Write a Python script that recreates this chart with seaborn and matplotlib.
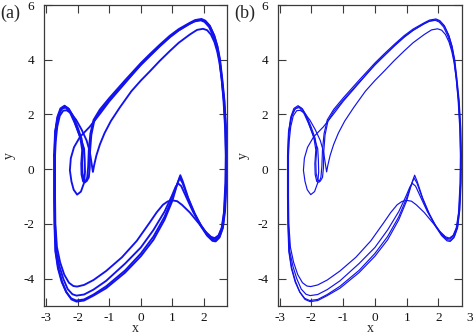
import matplotlib
matplotlib.use("Agg")
import matplotlib.pyplot as plt
import matplotlib.transforms as mtransforms
import numpy as np
import pandas as pd
import seaborn as sns

# Phase-portrait laps (x, y) traced around the attractor, one list per pass
lap_outer = [
    (-2.74, 0.5), (-2.74, -1.0), (-2.73, -2.0), (-2.70, -3.0), (-2.62, -3.6), (-2.50, -4.1),
    (-2.36, -4.5), (-2.20, -4.76), (-2.04, -4.84), (-1.80, -4.80), (-1.50, -4.62), (-1.10, -4.35),
    (-0.50, -3.78), (0.00, -3.18), (0.40, -2.58), (0.75, -1.85), (1.00, -1.15), (1.15, -0.55),
    (1.25, -0.22), (1.33, -0.45), (1.50, -1.05), (1.70, -1.60), (1.90, -2.05), (2.10, -2.40),
    (2.28, -2.58), (2.38, -2.60), (2.50, -2.45), (2.60, -2.10), (2.66, -1.50), (2.70, -0.50),
    (2.71, 0.50), (2.69, 1.50), (2.64, 2.50), (2.57, 3.30), (2.50, 4.00), (2.42, 4.50),
    (2.32, 4.90), (2.18, 5.25), (2.04, 5.43), (1.92, 5.49), (1.72, 5.45), (1.55, 5.35),
    (1.20, 5.12), (0.92, 4.88), (0.60, 4.55), (0.28, 4.20), (0.00, 3.88), (-0.50, 3.25),
    (-1.00, 2.60), (-1.30, 2.18), (-1.50, 1.80), (-1.60, 1.30), (-1.65, 0.70), (-1.67, 0.10),
    (-1.70, -0.30), (-1.76, -0.48), (-1.83, -0.45), (-1.88, -0.20), (-1.89, 0.20), (-1.86, 0.70),
    (-1.92, 1.15), (-2.04, 1.55), (-2.18, 1.98), (-2.30, 2.22), (-2.42, 2.32), (-2.55, 2.22),
    (-2.65, 1.90), (-2.71, 1.40), (-2.74, 0.5),
]

lap_loop = [
    (-2.73, 0.5), (-2.73, -1.0), (-2.72, -2.0), (-2.68, -3.0), (-2.58, -3.55), (-2.46, -4.0),
    (-2.32, -4.38), (-2.17, -4.57), (-2.04, -4.62), (-1.80, -4.58), (-1.50, -4.40), (-1.10, -4.08),
    (-0.50, -3.45), (0.00, -2.86), (0.40, -2.22), (0.75, -1.55), (0.98, -0.98), (1.10, -0.65),
    (1.18, -0.52), (1.28, -0.62), (1.45, -1.05), (1.65, -1.55), (1.88, -2.00), (2.08, -2.35),
    (2.25, -2.52), (2.36, -2.55), (2.48, -2.42), (2.58, -2.10), (2.65, -1.50), (2.69, -0.50),
    (2.70, 0.50), (2.68, 1.50), (2.63, 2.50), (2.56, 3.30), (2.49, 4.00), (2.41, 4.45),
    (2.30, 4.85), (2.16, 5.20), (2.02, 5.38), (1.90, 5.44), (1.70, 5.40), (1.52, 5.30),
    (1.18, 5.06), (0.90, 4.82), (0.58, 4.48), (0.26, 4.12), (-0.02, 3.80), (-0.50, 3.15),
    (-1.00, 2.48), (-1.30, 2.02), (-1.62, 1.55), (-1.93, 1.18), (-2.12, 0.80), (-2.22, 0.40),
    (-2.25, -0.04), (-2.20, -0.45), (-2.13, -0.75), (-2.02, -0.93), (-1.90, -0.82), (-1.80, -0.50),
    (-1.77, -0.10), (-1.78, 0.35), (-1.80, 0.75), (-1.95, 1.25), (-2.10, 1.70), (-2.25, 2.08),
    (-2.38, 2.25), (-2.50, 2.22), (-2.62, 1.95), (-2.70, 1.40), (-2.73, 0.5),
]

lap_inner = [
    (-2.72, 0.5), (-2.72, -1.0), (-2.71, -2.0), (-2.66, -2.85), (-2.56, -3.40), (-2.43, -3.85),
    (-2.28, -4.15), (-2.14, -4.27), (-2.02, -4.29), (-1.80, -4.23), (-1.50, -4.05), (-1.10, -3.72),
    (-0.60, -3.22), (-0.13, -2.62), (0.28, -1.95), (0.50, -1.58), (0.70, -1.30), (0.85, -1.18),
    (1.00, -1.14), (1.15, -1.17), (1.30, -1.30), (1.55, -1.58), (1.80, -1.93), (2.05, -2.28),
    (2.22, -2.47), (2.34, -2.52), (2.46, -2.42), (2.56, -2.15), (2.63, -1.60), (2.68, -0.50),
    (2.69, 0.50), (2.67, 1.50), (2.62, 2.50), (2.56, 3.30), (2.49, 3.90), (2.42, 4.30),
    (2.33, 4.65), (2.22, 4.92), (2.10, 5.08), (1.97, 5.13), (1.78, 5.09), (1.55, 4.92),
    (1.20, 4.62), (0.92, 4.32), (0.60, 3.96), (0.28, 3.57), (0.00, 3.24), (-0.30, 2.85),
    (-0.67, 2.25), (-0.95, 1.76), (-1.15, 1.32), (-1.30, 0.90), (-1.41, 0.50), (-1.48, 0.15),
    (-1.52, -0.10), (-1.56, 0.20), (-1.62, 0.65), (-1.72, 1.05), (-1.88, 1.45), (-2.05, 1.80),
    (-2.22, 2.05), (-2.35, 2.15), (-2.46, 2.14), (-2.57, 1.95), (-2.65, 1.55), (-2.70, 1.00),
    (-2.72, 0.5),
]

lap_outer2 = [
    (-2.75, 0.5), (-2.75, -1.0), (-2.74, -2.0), (-2.71, -3.0), (-2.63, -3.62), (-2.51, -4.12),
    (-2.37, -4.48), (-2.21, -4.72), (-2.05, -4.80), (-1.80, -4.76), (-1.50, -4.58), (-1.10, -4.28),
    (-0.50, -3.70), (0.00, -3.08), (0.40, -2.46), (0.75, -1.74), (1.00, -1.05), (1.14, -0.58),
    (1.23, -0.32), (1.32, -0.50), (1.50, -1.08), (1.70, -1.63), (1.90, -2.08), (2.10, -2.43),
    (2.27, -2.62), (2.37, -2.64), (2.49, -2.50), (2.60, -2.15), (2.67, -1.50), (2.71, -0.50),
    (2.72, 0.50), (2.70, 1.50), (2.65, 2.50), (2.58, 3.30), (2.51, 4.00), (2.43, 4.48),
    (2.33, 4.87), (2.19, 5.22), (2.05, 5.40), (1.93, 5.46), (1.73, 5.42), (1.56, 5.32),
    (1.21, 5.08), (0.93, 4.83), (0.61, 4.50), (0.29, 4.14), (0.01, 3.82), (-0.49, 3.19),
    (-0.99, 2.54), (-1.29, 2.12), (-1.48, 1.75), (-1.57, 1.25), (-1.61, 0.65), (-1.62, 0.05),
    (-1.65, -0.30), (-1.72, -0.44), (-1.80, -0.40), (-1.85, -0.15), (-1.86, 0.25), (-1.83, 0.75),
    (-1.88, 1.12), (-2.00, 1.52), (-2.15, 1.95), (-2.28, 2.20), (-2.40, 2.29), (-2.53, 2.18),
    (-2.64, 1.85), (-2.72, 1.35), (-2.75, 0.5),
]

laps = {"p1": lap_outer, "p2": lap_loop, "p3": lap_inner, "p4": lap_outer2}

x_ticks = [-3, -2, -1, 0, 1, 2]
y_ticks = [-4, -2, 0, 2, 4, 6]
panel_labels = ["(a)", "(b)"]

rows = []
for name, pts in laps.items():
    for i, (x, y) in enumerate(pts):
        rows.append({"lap": name, "step": i, "x": x, "y": y})
df = pd.DataFrame(rows)

sns.set_style("ticks")
plt.rcParams["font.family"] = ["Liberation Serif", "DejaVu Serif"]

W, H = 474, 335
fig = plt.figure(figsize=(W / 100, H / 100), dpi=100)
fig.patch.set_facecolor("white")

boxes = [(44, 227, 5, 306), (278, 462, 5, 306)]
xlims = [(-3.07, 2.73), (-3.05, 2.74)]
widths = [1.35, 0.85]
line_color = "#1212ee"
spine_color = "#3a3a3a"

for k, (l, r, t, b) in enumerate(boxes):
    ax = fig.add_axes([l / W, 1 - b / H, (r - l) / W, (b - t) / H])
    sns.lineplot(data=df, x="x", y="y", units="lap", estimator=None, sort=False,
                 color=line_color, lw=widths[k], ax=ax, legend=False)
    ax.set_xlim(*xlims[k])
    ax.set_ylim(-5, 6)
    ax.set_xticks(x_ticks)
    ax.set_yticks(y_ticks)
    ax.set_xticklabels(["%d" % v for v in x_ticks])
    ax.set_yticklabels(["%d" % v for v in y_ticks])
    ax.tick_params(direction="in", length=6, width=0.8, color=spine_color,
                   top=True, right=True, labelsize=9.5, labelcolor="#111111")
    ax.tick_params(axis="y", pad=7)
    ax.tick_params(axis="x", pad=4)
    for s in ax.spines.values():
        s.set_color(spine_color)
        s.set_linewidth(0.9)
    ax.set_xlabel("x", fontsize=10, labelpad=-1)
    ax.set_ylabel("y", fontsize=10, labelpad=5)
    ax.grid(False)
    fig.text((l - 44) / W, 1 - 13 / H, panel_labels[k], fontsize=13,
             ha="left", va="center")
    if k == 1:
        trans = mtransforms.blended_transform_factory(ax.transData, ax.transAxes)
        ax.text(2.98, -0.02, "3", transform=trans, ha="center", va="top",
                fontsize=9.5, color="#111111", clip_on=False)

fig.savefig("out.png", dpi=100, facecolor="white")
